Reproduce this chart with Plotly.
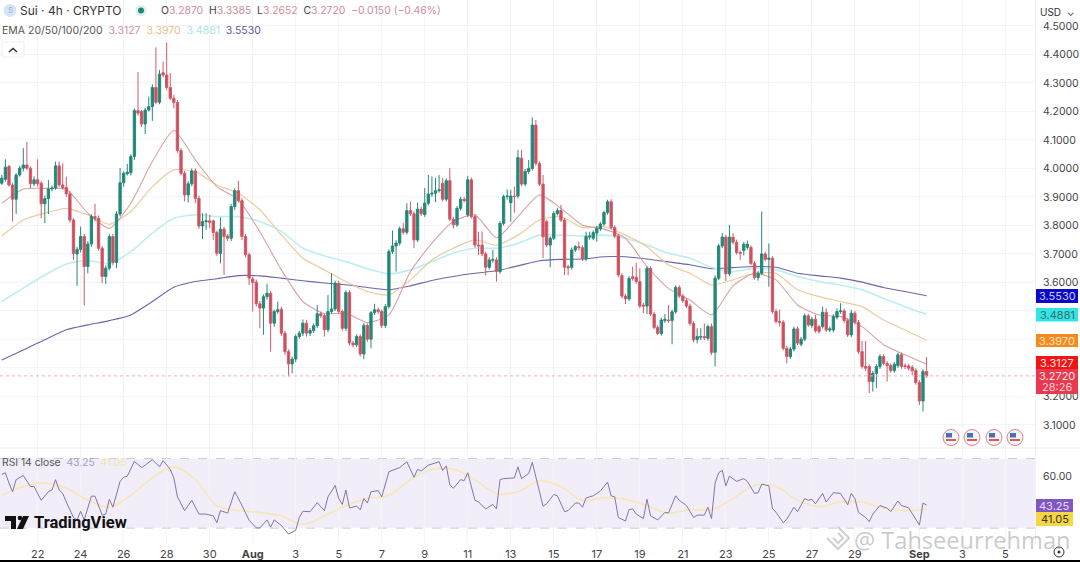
import pandas as pd
import plotly.graph_objects as go

W, H = 1080, 562
AXIS_X = 1035  # right edge of the panes, px

# 4h candles
candle_start = "2025-07-20 08:00"
opens = [3.948,3.962,4.007,3.942,3.892,3.977,4.001,4.012,4.001,3.946,
         3.960,3.948,3.876,3.894,3.928,3.931,4.009,3.942,3.933,3.911,
         3.819,3.700,3.716,3.761,3.656,3.735,3.831,3.825,3.720,3.621,
         3.650,3.761,3.670,3.840,3.950,3.981,3.985,4.042,4.203,4.200,
         4.156,4.205,4.217,4.284,4.232,4.336,4.328,4.284,4.246,4.231,
         4.063,3.983,3.907,3.946,3.991,3.895,3.798,3.813,3.816,3.816,
         3.775,3.702,3.787,3.763,3.755,3.866,3.922,3.887,3.761,3.697,
         3.612,3.601,3.525,3.510,3.550,3.562,3.457,3.498,3.506,3.422,
         3.357,3.314,3.331,3.410,3.422,3.457,3.422,3.431,3.448,3.490,
         3.483,3.434,3.498,3.507,3.597,3.498,3.439,3.565,3.387,3.381,
         3.410,3.349,3.449,3.401,3.494,3.504,3.498,3.449,3.515,3.708,
         3.728,3.738,3.788,3.776,3.852,3.841,3.749,3.857,3.838,3.878,
         3.910,3.913,3.922,3.948,3.892,3.957,3.822,3.802,3.860,3.892,
         3.837,3.960,3.831,3.731,3.731,3.700,3.653,3.678,3.679,3.638,
         3.807,3.901,3.880,3.903,3.903,4.036,3.945,3.989,4.000,4.152,
         4.018,3.945,3.813,3.731,3.755,3.842,3.852,3.819,3.655,3.653,
         3.714,3.725,3.722,3.682,3.759,3.755,3.773,3.788,3.805,3.845,
         3.883,3.793,3.763,3.624,3.552,3.542,3.620,3.618,3.603,3.520,
         3.517,3.649,3.489,3.442,3.421,3.466,3.468,3.466,3.497,3.582,
         3.552,3.536,3.517,3.456,3.400,3.408,3.410,3.404,3.445,3.355,
         3.615,3.728,3.759,3.630,3.759,3.741,3.705,3.712,3.723,3.723,
         3.667,3.617,3.632,3.700,3.681,3.685,3.498,3.463,3.460,3.369,
         3.340,3.366,3.437,3.383,3.401,3.483,3.449,3.471,3.445,3.445,
         3.495,3.433,3.433,3.478,3.498,3.500,3.466,3.416,3.492,3.460,
         3.357,3.305,3.305,3.252,3.281,3.305,3.340,3.316,3.308,3.291,
         3.308,3.346,3.308,3.307,3.302,3.291,3.249,3.184,3.287]
highs = [3.977,4.032,4.012,3.948,3.983,4.009,4.071,4.094,4.007,3.972,
         4.032,3.956,3.905,3.960,3.940,4.024,4.024,4.018,3.971,3.920,
         3.825,3.725,3.796,3.770,3.745,3.840,3.876,3.835,3.728,3.660,
         3.770,3.770,3.850,4.001,3.990,4.016,4.050,4.210,4.338,4.205,
         4.212,4.252,4.295,4.425,4.345,4.375,4.442,4.334,4.258,4.240,
         4.072,3.992,3.955,4.000,4.000,3.905,3.843,3.843,3.837,3.820,
         3.782,3.828,3.795,3.770,3.875,3.930,3.957,3.895,3.770,3.705,
         3.620,3.610,3.535,3.558,3.595,3.570,3.505,3.533,3.515,3.430,
         3.365,3.340,3.418,3.430,3.470,3.469,3.440,3.456,3.521,3.498,
         3.490,3.556,3.632,3.606,3.605,3.505,3.572,3.572,3.395,3.418,
         3.418,3.458,3.456,3.500,3.525,3.512,3.505,3.524,3.716,3.782,
         3.748,3.796,3.808,3.878,3.884,3.850,3.880,3.866,3.931,3.977,
         3.972,3.966,3.977,3.966,3.965,4.001,3.830,3.868,3.900,3.900,
         3.974,3.968,3.840,3.778,3.778,3.708,3.688,3.714,3.688,3.815,
         3.908,3.927,3.925,3.936,4.065,4.065,3.998,4.030,4.179,4.170,
         4.025,3.977,3.820,3.762,3.850,3.862,3.872,3.826,3.662,3.722,
         3.731,3.743,3.730,3.778,3.778,3.783,3.798,3.812,3.852,3.890,
         3.892,3.800,3.770,3.632,3.560,3.622,3.655,3.669,3.649,3.528,
         3.657,3.657,3.497,3.450,3.476,3.489,3.521,3.505,3.590,3.590,
         3.560,3.545,3.525,3.464,3.439,3.439,3.456,3.452,3.456,3.625,
         3.736,3.773,3.767,3.802,3.773,3.750,3.712,3.742,3.747,3.730,
         3.675,3.640,3.849,3.708,3.737,3.692,3.507,3.504,3.468,3.377,
         3.374,3.445,3.445,3.409,3.491,3.490,3.479,3.486,3.452,3.515,
         3.509,3.445,3.488,3.509,3.527,3.508,3.474,3.504,3.500,3.468,
         3.395,3.395,3.313,3.289,3.313,3.348,3.348,3.324,3.316,3.321,
         3.354,3.354,3.316,3.315,3.310,3.299,3.257,3.295,3.3385]
lows = [3.942,3.954,3.936,3.814,3.840,3.971,3.989,3.995,3.931,3.938,
        3.936,3.825,3.808,3.840,3.920,3.925,3.936,3.925,3.900,3.810,
        3.679,3.588,3.705,3.519,3.632,3.725,3.815,3.712,3.597,3.594,
        3.642,3.660,3.650,3.832,3.936,3.975,3.975,4.030,4.185,4.145,
        4.121,4.200,4.167,4.225,4.225,4.320,4.275,4.240,4.211,4.055,
        3.975,3.884,3.880,3.938,3.878,3.788,3.752,3.784,3.790,3.749,
        3.692,3.667,3.626,3.745,3.745,3.855,3.880,3.749,3.688,3.591,
        3.498,3.515,3.439,3.416,3.540,3.357,3.445,3.490,3.412,3.345,
        3.270,3.281,3.320,3.402,3.412,3.410,3.412,3.422,3.440,3.475,
        3.410,3.425,3.490,3.500,3.490,3.430,3.430,3.378,3.372,3.373,
        3.340,3.331,3.392,3.369,3.486,3.490,3.440,3.440,3.508,3.700,
        3.638,3.730,3.768,3.768,3.833,3.720,3.742,3.833,3.830,3.870,
        3.900,3.882,3.915,3.884,3.884,3.815,3.790,3.795,3.852,3.880,
        3.830,3.824,3.722,3.696,3.692,3.624,3.645,3.670,3.603,3.630,
        3.800,3.890,3.813,3.845,3.895,3.938,3.938,3.980,3.992,4.010,
        3.938,3.685,3.724,3.653,3.748,3.835,3.812,3.626,3.626,3.645,
        3.707,3.712,3.675,3.675,3.750,3.748,3.743,3.780,3.798,3.838,
        3.785,3.755,3.618,3.544,3.524,3.535,3.606,3.595,3.510,3.492,
        3.489,3.482,3.435,3.415,3.413,3.458,3.458,3.383,3.490,3.545,
        3.528,3.510,3.448,3.390,3.386,3.398,3.398,3.396,3.346,3.305,
        3.608,3.720,3.605,3.622,3.733,3.698,3.679,3.695,3.715,3.660,
        3.610,3.606,3.625,3.674,3.585,3.490,3.455,3.445,3.361,3.316,
        3.332,3.358,3.380,3.376,3.394,3.444,3.441,3.423,3.420,3.438,
        3.426,3.425,3.425,3.470,3.490,3.458,3.408,3.408,3.452,3.349,
        3.297,3.290,3.211,3.217,3.229,3.297,3.309,3.252,3.283,3.283,
        3.300,3.297,3.295,3.291,3.275,3.241,3.170,3.147,3.2652]
closes = [3.966,4.004,3.942,3.892,3.977,4.001,4.012,4.001,3.946,3.960,
          3.946,3.876,3.894,3.928,3.931,4.009,3.942,3.933,3.911,3.819,
          3.702,3.716,3.761,3.656,3.735,3.831,3.825,3.720,3.621,3.650,
          3.761,3.670,3.840,3.950,3.983,3.987,4.042,4.203,4.194,4.156,
          4.205,4.217,4.284,4.232,4.331,4.328,4.284,4.246,4.231,4.063,
          3.983,3.907,3.946,3.991,3.895,3.798,3.814,3.816,3.811,3.775,
          3.702,3.787,3.761,3.755,3.866,3.922,3.887,3.761,3.697,3.615,
          3.600,3.525,3.510,3.550,3.562,3.457,3.498,3.504,3.422,3.357,
          3.314,3.331,3.410,3.422,3.457,3.422,3.431,3.448,3.490,3.483,
          3.434,3.498,3.507,3.597,3.498,3.439,3.565,3.387,3.381,3.410,
          3.349,3.449,3.401,3.494,3.504,3.498,3.449,3.515,3.708,3.728,
          3.738,3.788,3.776,3.852,3.841,3.749,3.857,3.841,3.878,3.910,
          3.913,3.922,3.925,3.892,3.957,3.822,3.802,3.860,3.892,3.887,
          3.960,3.831,3.731,3.728,3.700,3.653,3.679,3.680,3.638,3.807,
          3.901,3.903,3.903,3.901,4.038,3.945,3.989,4.000,4.152,4.018,
          3.945,3.760,3.731,3.755,3.842,3.852,3.819,3.653,3.651,3.714,
          3.725,3.722,3.682,3.761,3.763,3.775,3.790,3.805,3.845,3.883,
          3.793,3.763,3.626,3.552,3.542,3.614,3.614,3.603,3.517,3.517,
          3.649,3.489,3.442,3.421,3.468,3.471,3.466,3.497,3.582,3.552,
          3.536,3.517,3.456,3.398,3.410,3.410,3.406,3.445,3.354,3.615,
          3.728,3.759,3.630,3.759,3.741,3.705,3.702,3.734,3.734,3.667,
          3.617,3.632,3.700,3.681,3.685,3.498,3.463,3.460,3.369,3.340,
          3.366,3.437,3.387,3.401,3.483,3.451,3.471,3.430,3.428,3.495,
          3.433,3.437,3.480,3.498,3.500,3.466,3.416,3.492,3.460,3.357,
          3.305,3.299,3.252,3.281,3.305,3.340,3.316,3.308,3.291,3.313,
          3.346,3.305,3.305,3.299,3.290,3.249,3.184,3.287,3.272]

# EMA lines, one reading per day starting at the first candle
ema20 = [3.878,3.928,3.930,3.927,3.843,3.790,3.878,4.024,4.133,4.030,3.936,3.890,
         3.778,3.644,3.533,3.490,3.492,3.459,3.486,3.638,3.738,3.814,3.837,
         3.757,3.831,3.907,3.860,3.801,3.787,3.755,3.655,3.579,3.538,3.486,
         3.588,3.632,3.609,3.521,3.486,3.480,3.445,3.381,3.346,3.3127]
ema50 = [3.763,3.819,3.843,3.860,3.837,3.804,3.849,3.936,3.995,3.989,3.942,3.913,
         3.855,3.767,3.685,3.644,3.603,3.568,3.556,3.609,3.679,3.720,3.749,
         3.731,3.766,3.819,3.831,3.792,3.796,3.766,3.725,3.661,3.632,3.591,
         3.609,3.632,3.632,3.574,3.550,3.533,3.515,3.468,3.433,3.3970]
ema100 = [3.533,3.580,3.626,3.665,3.677,3.665,3.708,3.773,3.825,3.837,3.831,3.831,
          3.814,3.779,3.720,3.693,3.673,3.648,3.630,3.644,3.673,3.703,3.720,
          3.720,3.737,3.766,3.766,3.763,3.766,3.755,3.731,3.702,3.685,3.653,
          3.638,3.650,3.644,3.621,3.603,3.591,3.574,3.544,3.515,3.4881]
ema200 = [3.328,3.363,3.399,3.434,3.451,3.466,3.486,3.533,3.583,3.603,3.613,3.624,
          3.623,3.615,3.606,3.598,3.592,3.582,3.574,3.588,3.607,3.621,3.632,
          3.641,3.658,3.676,3.681,3.682,3.690,3.690,3.682,3.672,3.662,3.648,
          3.652,3.656,3.653,3.632,3.623,3.615,3.601,3.582,3.568,3.5530]

# RSI, readings at these candle numbers
rsi_idx = [0,1,2,3,4,6,8,9,11,13,14,15,16,17,18,20,21,22,23,25,26,28,29,30,31,33,34,35,
           37,39,40,42,44,45,47,48,49,51,53,55,57,59,60,61,63,65,67,69,71,72,74,75,76,
           78,80,82,83,84,86,88,90,91,93,94,95,96,97,99,100,101,102,103,105,106,108,
           111,113,115,116,117,119,122,123,124,125,126,128,129,130,132,133,135,137,138,
           139,140,143,144,145,147,148,149,150,151,152,154,155,157,158,160,161,162,163,
           165,167,169,170,171,172,174,175,176,177,179,180,181,183,185,186,188,189,191,
           193,194,196,197,198,199,200,201,202,203,205,207,208,210,211,212,214,215,216,
           218,219,221,222,224,225,226,227,229,230,232,234,236,237,238,239,241,242,243,
           245,247,248,250,251,253,256,257,258]
rsi_vals = [61,62,56,51,58,60.4,54,54,46,51,52,58,52,50,45,36,34.6,39.6,34.6,48.4,48.4,37.4,38,46.6,42,57,59.4,60,
            68.6,65,66.4,69.6,65.4,69,64,59,48,40,46,38,38,37,33,40,38.6,51,43,34.4,30,30,34.6,30.4,34.6,
            31.4,26.4,28.6,36,39.6,39.4,44.6,40,48,54.6,47,43.6,52,41.6,42.6,40.4,47,44.4,51,51.6,48,62.6,
            65,68.4,59.4,64,63,66.4,68.4,63.4,66,55,53,58,57.4,62,46,45,41,43.6,41,
            58,58.6,59,65.4,58.6,61.6,68,60,51,42.6,44,49.4,48.6,39.4,40,44.4,44.4,42,47.4,
            48.6,51.4,56.6,48.6,48,36,34,40.6,41,38,35.4,46.6,37,34.6,39,38.6,48.6,46,43,
            36,37.4,37.4,42,35.4,56,62,63.4,54.4,60,57,58.6,57,50,50.4,55.4,54.4,41.4,39,
            33,35,42,39.4,47,46,46.6,44,50,45,50.4,50,43.4,50,47,39,36,33.6,38,
            43,41.4,39.4,45.6,43,41.6,31.6,44.4,43.25]
# RSI moving average, one reading per day
rsi_ma = [49,54,56,53,46,42,49,59,65.4,58,43,40,39,37,32,37,43,47,49,58,64,64,58,50,51,57.4,
          54,46,47.4,46.6,43,38.6,40.6,40.6,47,54.6,54,46,42.4,45,45,41.4,40,41.05]

price_ticks = [4.5,4.4,4.3,4.2,4.1,4.0,3.9,3.8,3.7,3.6,3.5,3.4,3.3,3.2,3.1]
price_hidden = [3.5,3.4,3.3]  # covered by the tags on the scale
day_ticks = ["07-22","07-24","07-26","07-28","07-30","08-01","08-03","08-05","08-07","08-09","08-11",
             "08-13","08-15","08-17","08-19","08-21","08-23","08-25","08-27","08-29","09-01","09-03","09-05"]
day_labels = ["22","24","26","28","30","<b>Aug</b>","3","5","7","9","11",
              "13","15","17","19","21","23","25","27","29","<b>Sep</b>","3","5"]
last_close = 3.2720

assert len(opens) == len(highs) == len(lows) == len(closes) == 259
assert len(rsi_idx) == len(rsi_vals)

dates = pd.date_range(candle_start, periods=len(closes), freq="4h")
daily = dates[::6]
x_range = ["2025-07-20 06:00", "2025-09-06 09:00"]
y_main = [3.019, 4.591]
y_rsi = [21.2, 75.8]
GRID = "#f4f4f6"
TEXT = "#444444"
FONT = "Inter"


def fx(x):
    return x / W


def fy(y):
    return 1 - y / H


def rect(x0, y0, x1, y1, color, line=None, layer="above"):
    return dict(type="rect", xref="paper", yref="paper", x0=fx(x0), x1=fx(x1), y0=fy(y0), y1=fy(y1),
                fillcolor=color, line=dict(width=1 if line else 0, color=line or color), layer=layer)


def circle(cx, cy, r, color, line=None):
    return dict(type="circle", xref="paper", yref="paper", x0=fx(cx - r), x1=fx(cx + r), y0=fy(cy + r), y1=fy(cy - r),
                fillcolor=color, line=dict(width=1 if line else 0, color=line or color), layer="above")


def poly(points, color=None, line=None, width=1):
    path = "M " + " L ".join(f"{fx(x):.5f} {fy(y):.5f}" for x, y in points)
    if color:
        path += " Z"
    return dict(type="path", xref="paper", yref="paper", path=path, fillcolor=color or "rgba(0,0,0,0)",
                line=dict(width=width if line else 0, color=line or "rgba(0,0,0,0)"), layer="above")


def label(x, y, text, size=11, color=TEXT, anchor="left", **kw):
    return dict(xref="paper", yref="paper", x=fx(x), y=fy(y), text=text, showarrow=False, xanchor=anchor,
                yanchor="middle", font=dict(size=size, color=color, family=kw.pop("family", FONT)), **kw)


fig = go.Figure()

# EMAs sit under the candles
for vals, color, width in [(ema200, "#6c64ac", 1.1), (ema100, "#bdeef1", 1.6), (ema50, "#eecb9e", 1.2), (ema20, "#d8a2a4", 1.1)]:
    fig.add_trace(go.Scatter(x=daily, y=vals, mode="lines", line=dict(color=color, width=width, shape="spline", smoothing=0.6),
                             xaxis="x", yaxis="y", showlegend=False))

fig.add_trace(go.Candlestick(x=dates, open=opens, high=highs, low=lows, close=closes, xaxis="x3", yaxis="y3",
                             increasing=dict(line=dict(color="#27887a", width=1), fillcolor="#1f8a74"),
                             decreasing=dict(line=dict(color="#cf5c6a", width=1), fillcolor="#cf4a5a"),
                             whiskerwidth=0, showlegend=False))

fig.add_trace(go.Scatter(x=daily, y=rsi_ma, mode="lines", line=dict(color="#f7e7b4", width=1.6, shape="spline"),
                         xaxis="x2", yaxis="y2", showlegend=False))
fig.add_trace(go.Scatter(x=dates[rsi_idx], y=rsi_vals, mode="lines", line=dict(color="#8375ae", width=1),
                         xaxis="x2", yaxis="y2", showlegend=False))

shapes = [
    # RSI band and its dashed levels
    dict(type="rect", xref="x2", yref="y2", x0=x_range[0], x1=x_range[1], y0=30, y1=70, fillcolor="#f1edf9", line=dict(width=0), layer="below"),
    rect(0, 447.5, W, 448.5, "#eeeeee"),
    rect(AXIS_X, 0, AXIS_X + 0.8, 545, "#f0f0f0"),
    # black strip along the bottom of the screenshot
    rect(0, 560, W, 562, "#000000"),
    # last price line
    dict(type="line", xref="paper", yref="y", x0=0, x1=fx(AXIS_X), y0=last_close, y1=last_close, line=dict(color="#eeb0b0", width=1, dash="dot"), layer="above"),
    # price tags
    rect(1036, 289, 1078, 303, "#0a0ac8"),
    rect(1036, 308, 1078, 321.5, "#2fe6e6"),
    rect(1036, 334, 1078, 347, "#f58a1f"),
    rect(1036, 356, 1078, 369, "#f01414"),
    rect(1036, 369, 1078, 394, "#e8394f"),
    rect(1036, 499, 1073, 512, "#7e57c2"),
    rect(1036, 512, 1073, 526, "#f6d742"),
    # collapse button
    rect(2, 42, 24, 57, "#ffffff", "#eeeeee"),
    poly([(9, 52), (13, 48.5), (17, 52)], line="#333333", width=1.5),
    # symbol icon and status dot
    circle(10, 10.5, 6.5, "#d6e6f6"),
    circle(141, 10.5, 5.5, "#dcefea"),
    circle(141, 10.5, 3, "#1a8a78"),
    # TradingView mark
    poly([(5, 516), (16, 516), (16, 529), (11, 529), (11, 521), (5, 521)], color="#111111"),
    circle(20, 518, 2.3, "#111111"),
    poly([(23, 516), (29, 516), (23, 529), (17, 529)], color="#111111"),
    # settings icon
    circle(1059, 552, 5, "#ffffff", "#333333"),
    circle(1059, 552, 1.5, "#333333"),
    # watermark mark
    poly([(838, 527), (849, 538), (838, 549), (827, 538)], line="rgba(170,170,170,0.55)", width=2),
    poly([(838, 533), (843, 538), (838, 543), (833, 538)], line="rgba(170,170,170,0.55)", width=2),
]
# calendar flags
for cx in [951, 972, 994, 1015]:
    shapes.append(circle(cx, 437.5, 8, "#f4f4f8", "#d8837f"))
    shapes.append(rect(cx - 5, 433, cx + 1, 437.5, "#4a6fb5"))
    shapes.append(rect(cx - 5, 439, cx + 5, 441, "#d65a55"))

C = "#d08c98"
ohlc = (f'O<span style="color:{C}">3.2870</span>  H<span style="color:{C}">3.3385</span>  '
        f'L<span style="color:{C}">3.2652</span>  C<span style="color:{C}">3.2720</span>  '
        f'<span style="color:{C}">−0.0150 (−0.46%)</span>')
ema_text = ('EMA 20/50/100/200  <span style="color:#d4929a">3.3127</span>  <span style="color:#ecc08a">3.3970</span>  '
            '<span style="color:#a9e6ec">3.4881</span>  <span style="color:#5a56a8">3.5530</span>')
rsi_text = 'RSI 14 close  <span style="color:#a79ccb">43.25</span>  <span style="color:#f4e4a6">41.05</span>'

annotations = [
    label(10, 10.5, "S", 8, "#8fb4de", "center"),
    label(18, 10.5, "Sui · 4h · CRYPTO", 12, "#333333"),
    label(159, 10.5, ohlc, 10.4, "#444444"),
    label(0, 30, ema_text, 10.5, "#555555"),
    label(0, 462, rsi_text, 10.3, "#555555"),
    label(32, 522, "<b>TradingView</b>", 16.5, "#111111", family="Roboto"),
    label(1057, 296, "3.5530", 11, "#c8c8f0", "center"),
    label(1057, 314.5, "3.4881", 11, "#4a6a6a", "center"),
    label(1057, 340.5, "3.3970", 11, "#ffe2c0", "center"),
    label(1057, 362.5, "3.3127", 11, "#ffe0e0", "center"),
    label(1057, 376, "3.2720", 11, "#ffe0e4", "center"),
    label(1057, 387, "28:26", 11, "#ffd0d6", "center"),
    label(1054.5, 505.5, "43.25", 11, "#e6dcf8", "center"),
    label(1054.5, 519, "41.05", 11, "#333333", "center"),
    label(1038, 11.5, "USD  ⌄", 10, "#333333", bgcolor="#ffffff", width=38, height=17, align="left"),
    label(852, 540, "@ Tahseeurrehman", 23.6, "rgba(150,150,150,0.5)", family="Open Sans"),
]

fig.update_layout(
    width=W, height=H, template="none", margin=dict(l=0, r=0, t=0, b=0), showlegend=False,
    paper_bgcolor="white", plot_bgcolor="white", boxgap=0.08,
    xaxis=dict(domain=[0, fx(AXIS_X)], range=x_range, type="date", anchor="y", tickvals=["2025-" + d for d in day_ticks],
               showticklabels=False, showgrid=True, gridcolor=GRID, gridwidth=1, zeroline=False, showline=False, ticks=""),
    xaxis2=dict(domain=[0, fx(AXIS_X)], range=x_range, type="date", anchor="y2", tickvals=["2025-" + d for d in day_ticks], ticktext=day_labels,
                showgrid=True, gridcolor=GRID, zeroline=False, showline=False, ticks="outside", ticklen=1, tickcolor="rgba(0,0,0,0)",
                tickfont=dict(size=11, color=TEXT, family=FONT), tickangle=0),
    xaxis3=dict(overlaying="x", range=x_range, type="date", anchor="y3", visible=False, rangeslider=dict(visible=False)),
    yaxis=dict(domain=[fy(448), 1], range=y_main, anchor="x", side="right", tickvals=price_ticks,
               ticktext=["" if p in price_hidden else f"{p:.4f}" for p in price_ticks],
               showgrid=True, gridcolor=GRID, zeroline=False, showline=False, ticks="outside", ticklen=5, tickcolor="rgba(0,0,0,0)",
               tickfont=dict(size=10.5, color=TEXT, family=FONT)),
    yaxis2=dict(domain=[fy(543), fy(449)], range=y_rsi, anchor="x2", side="right", tickvals=[60], ticktext=["60.00"],
                showgrid=False, zeroline=False, showline=False, ticks="outside", ticklen=5, tickcolor="rgba(0,0,0,0)",
                tickfont=dict(size=10.5, color=TEXT, family=FONT)),
    yaxis3=dict(overlaying="y", range=y_main, anchor="x3", visible=False),
    shapes=shapes, annotations=annotations,
)
for level in [70, 50, 30]:
    fig.add_shape(type="line", xref="paper", yref="y2", x0=0, x1=fx(AXIS_X), y0=level, y1=level,
                  line=dict(color="#a0a0a0", width=1, dash="dash"), layer="below")

fig.write_html("out.html", config=dict(displayModeBar=False), post_script="document.body.style.margin='0';")
